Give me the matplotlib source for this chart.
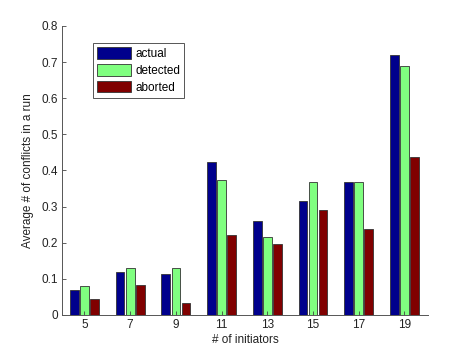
import matplotlib
matplotlib.use("Agg")
import matplotlib.pyplot as plt
import numpy as np

categories = ["5", "7", "9", "11", "13", "15", "17", "19"]
actual = [0.068, 0.118, 0.113, 0.423, 0.261, 0.316, 0.368, 0.720]
detected = [0.080, 0.131, 0.129, 0.373, 0.217, 0.368, 0.368, 0.688]
aborted = [0.045, 0.083, 0.032, 0.220, 0.195, 0.290, 0.237, 0.438]
series_names = ["actual", "detected", "aborted"]
yticks = [0, 0.1, 0.2, 0.3, 0.4, 0.5, 0.6, 0.7, 0.8]
ytick_labels = ["0", "0.1", "0.2", "0.3", "0.4", "0.5", "0.6", "0.7", "0.8"]

plt.rcParams['font.family'] = ['Liberation Sans', 'DejaVu Sans']
fs = 8.5

fig = plt.figure(figsize=(4.74, 3.55), dpi=100)
ax = fig.add_axes([0.131, 0.113, 0.772, 0.814])

x = np.arange(len(categories))
colors = ["#00008C", "#80FF80", "#800000"]
offsets = [-0.22, 0.0, 0.22]
w = 0.19
for vals, c, off, name in zip([actual, detected, aborted], colors, offsets, series_names):
    ax.bar(x + off, vals, width=w, color=c, edgecolor="#333333", linewidth=0.6, label=name)

ax.set_xlim(-0.49, 7.52)
ax.set_ylim(0, 0.8)
ax.set_xticks(x)
ax.set_xticklabels(categories, fontsize=fs)
ax.set_yticks(yticks)
ax.set_yticklabels(ytick_labels, fontsize=fs)
ax.tick_params(direction="in", length=3, width=0.6, colors="#444444", labelcolor="#222222", pad=3)
for s in ["top", "right"]:
    ax.spines[s].set_visible(False)
for s in ["left", "bottom"]:
    ax.spines[s].set_color("#555555")
    ax.spines[s].set_linewidth(0.7)

ax.set_xlabel("# of initiators", fontsize=fs, labelpad=2, color="#222222")
ax.set_ylabel("Average # of conflicts in a run", fontsize=fs, labelpad=5, color="#222222")

leg = ax.legend(loc="upper left", bbox_to_anchor=(0.084, 0.94), fontsize=8.5,
                handlelength=2.9, handleheight=1.1, handletextpad=0.35,
                labelspacing=0.35, borderpad=0.35, borderaxespad=0, fancybox=False,
                framealpha=1)
leg.get_frame().set_edgecolor("#555555")
leg.get_frame().set_linewidth(0.7)

fig.savefig("out.png", dpi=100)
